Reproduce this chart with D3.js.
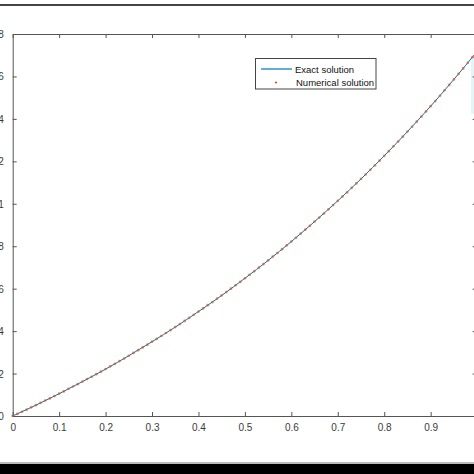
<!DOCTYPE html>
<html><head><meta charset="utf-8">
<script src="https://cdn.jsdelivr.net/npm/d3@7"></script>
<style>html,body{margin:0;padding:0;background:#fff;overflow:hidden}svg{display:block}</style>
</head><body>
<script>
const xTicks = [0,0.1,0.2,0.3,0.4,0.5,0.6,0.7,0.8,0.9];
const xTickLabels = ["0","0.1","0.2","0.3","0.4","0.5","0.6","0.7","0.8","0.9"];
const yTicks = [0,0.2,0.4,0.6,0.8,1,1.2,1.4,1.6,1.8];
const yTickLabels = ["0","0.2","0.4","0.6","0.8","1","1.2","1.4","1.6","1.8"];
const seriesNames = ["Exact solution","Numerical solution"];
const exactX = [0,0.05,0.1,0.15,0.2,0.25,0.3,0.35,0.4,0.45,0.5,0.55,0.6,0.65,0.7,0.75,0.8,0.85,0.9,0.95,1];
const exactY = [0,0.051,0.105,0.162,0.221,0.284,0.350,0.419,0.492,0.568,0.649,0.733,0.822,0.916,1.014,1.117,1.226,1.340,1.460,1.586,1.718];
const numX = d3.range(0,101).map(i=>i/100);
const numY = [0,0.010,0.020,0.030,0.041,0.051,0.062,0.073,0.083,0.094,
0.105,0.116,0.128,0.139,0.150,0.162,0.174,0.185,0.197,0.209,
0.221,0.234,0.246,0.259,0.271,0.284,0.297,0.310,0.323,0.336,
0.350,0.363,0.377,0.391,0.405,0.419,0.433,0.448,0.462,0.477,
0.492,0.507,0.522,0.537,0.553,0.568,0.584,0.600,0.616,0.632,
0.649,0.665,0.682,0.699,0.716,0.733,0.751,0.768,0.786,0.804,
0.822,0.840,0.859,0.878,0.896,0.916,0.935,0.954,0.974,0.994,
1.014,1.034,1.054,1.075,1.096,1.117,1.138,1.160,1.181,1.203,
1.226,1.248,1.271,1.293,1.316,1.340,1.363,1.387,1.411,1.435,
1.460,1.484,1.509,1.535,1.560,1.586,1.612,1.638,1.664,1.691,1.718];

const W=474,H=474;
const svg=d3.select("body").append("svg").attr("width",W).attr("height",H);
const x=d3.scaleLinear().domain([0,1]).range([12.7,477.1]);
const y=d3.scaleLinear().domain([0,1.8]).range([416,34]);
const axisColor="#555";

svg.append("rect").attr("x",0).attr("y",4).attr("width",W).attr("height",2).attr("fill","#444");
svg.append("rect").attr("x",0).attr("y",462).attr("width",W).attr("height",2).attr("fill","#bbb");
svg.append("rect").attr("x",0).attr("y",464).attr("width",W).attr("height",10).attr("fill","#000");
svg.append("rect").attr("x",471).attr("y",58).attr("width",3).attr("height",56).attr("fill","#e4f5f8");

const font="Liberation Sans, Arial, Helvetica, sans-serif";

const xb=svg.append("g").attr("transform",`translate(0,${y(0)})`)
 .call(d3.axisBottom(x).tickValues(xTicks).tickFormat((d,i)=>xTickLabels[i]).tickSizeInner(-4).tickSizeOuter(0).tickPadding(8));
const xt=svg.append("g").attr("transform",`translate(0,${y(1.8)})`)
 .call(d3.axisTop(x).tickValues(xTicks).tickFormat("").tickSizeInner(-4).tickSizeOuter(0));
const yl=svg.append("g").attr("transform",`translate(${x(0)},0)`)
 .call(d3.axisLeft(y).tickValues(yTicks).tickFormat((d,i)=>yTickLabels[i]).tickSizeInner(-4).tickSizeOuter(0).tickPadding(9));
const yr=svg.append("g").attr("transform",`translate(${x(1)},0)`)
 .call(d3.axisRight(y).tickValues(yTicks).tickFormat("").tickSizeInner(-4.5).tickSizeOuter(0));
[xb,xt,yl,yr].forEach(g=>{
  g.select(".domain").attr("stroke",axisColor).attr("stroke-width",1);
  g.selectAll(".tick line").attr("stroke",axisColor).attr("stroke-width",1);
  g.selectAll("text").attr("fill","#3a3a3a").style("font-family",font).style("font-size","10px");
});
yl.selectAll("text").attr("dy","0.35em");

const line=d3.line().x((d,i)=>x(exactX[i])).y(d=>y(d)).curve(d3.curveMonotoneX);
svg.append("path").datum(exactY).attr("d",line).attr("fill","none").attr("stroke","#0072BD").attr("stroke-width",1);

svg.append("g").selectAll("circle").data(numY).join("circle")
 .attr("cx",(d,i)=>x(numX[i])).attr("cy",d=>y(d)).attr("r",1.35).attr("fill","#D95319").attr("opacity",0.7);

const lg=svg.append("g");
lg.append("rect").attr("x",255.5).attr("y",58.5).attr("width",120.5).attr("height",30.5).attr("fill","#fff").attr("stroke","#444").attr("stroke-width",1);
lg.append("line").attr("x1",261).attr("x2",292).attr("y1",69).attr("y2",69).attr("stroke","#0072BD").attr("stroke-width",1.2);
lg.append("circle").attr("cx",276).attr("cy",82.5).attr("r",1.1).attr("fill","#D95319");
lg.append("text").attr("x",295).attr("y",72.5).text(seriesNames[0]).style("font-family",font).style("font-size","9.5px").attr("fill","#111");
lg.append("text").attr("x",296).attr("y",86).text(seriesNames[1]).style("font-family",font).style("font-size","9.5px").attr("fill","#111");
</script>
</body></html>
